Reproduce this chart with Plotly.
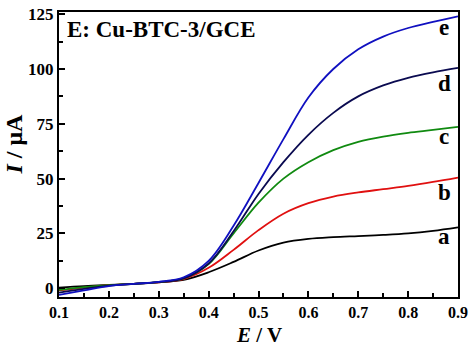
import plotly.graph_objects as go

# Potential axis (V)
potential = [0.10, 0.15, 0.20, 0.25, 0.30, 0.35, 0.40, 0.45, 0.50,
             0.55, 0.60, 0.65, 0.70, 0.75, 0.80, 0.85, 0.90]

# Current responses (uA) for the five concentrations
current_a = [0.3, 1.0, 1.5, 2.0, 2.7, 3.8, 7.3, 12.0, 17.2,
             20.8, 22.5, 23.3, 23.8, 24.3, 25.0, 26.2, 27.8]
current_b = [-1.0, 0.3, 1.4, 2.0, 2.7, 4.2, 9.3, 17.5, 26.5,
             34.0, 38.8, 41.8, 43.7, 45.2, 46.7, 48.5, 50.5]
current_c = [-0.8, 0.5, 1.4, 2.0, 2.8, 4.5, 11.0, 25.0, 39.0,
             50.0, 57.5, 63.0, 66.8, 69.2, 70.9, 72.2, 73.6]
current_d = [-2.0, -0.3, 1.2, 2.0, 2.8, 4.5, 11.3, 26.0, 43.0,
             57.5, 70.0, 80.0, 87.5, 92.5, 96.0, 98.5, 100.5]
current_e = [-3.0, -1.0, 1.0, 2.0, 2.9, 5.0, 12.5, 28.5, 48.0,
             68.0, 87.0, 100.0, 109.0, 114.8, 118.7, 121.5, 124.0]

curve_names = ["a", "b", "c", "d", "e"]
curve_colors = ["#000000", "#e01010", "#108a10", "#0a0a50", "#1010c0"]
curve_values = [current_a, current_b, current_c, current_d, current_e]

# Label positions next to each curve
label_x = 0.872
label_y = [23.6, 43.6, 69.0, 93.5, 119.0]

y_ticks = [0, 25, 50, 75, 100, 125]
x_ticks = [0.1, 0.2, 0.3, 0.4, 0.5, 0.6, 0.7, 0.8, 0.9]

FONT = "Liberation Serif"

fig = go.Figure()
for name, color, vals in zip(curve_names, curve_colors, curve_values):
    fig.add_trace(go.Scatter(
        x=potential, y=vals, mode="lines", name=name,
        line=dict(color=color, width=1.8, shape="spline", smoothing=1.0),
        showlegend=False,
    ))

for name, ly in zip(curve_names, label_y):
    fig.add_annotation(x=label_x, y=ly, text=f"<b>{name}</b>", showarrow=False,
                       font=dict(family=FONT, size=23, color="black"),
                       xanchor="center", yanchor="middle")

fig.add_annotation(x=0.015, y=0.99, xref="paper", yref="paper",
                   text="<b>E: Cu-BTC-3/GCE</b>", showarrow=False,
                   xanchor="left", yanchor="top",
                   font=dict(family=FONT, size=23, color="black"))

# Axis titles placed as annotations relative to the plot frame
fig.add_annotation(x=0.5, y=0, xref="paper", yref="paper", yshift=-51,
                   text="<b><i>E</i> / V</b>", showarrow=False, borderpad=0,
                   xanchor="center", yanchor="bottom",
                   font=dict(family=FONT, size=21, color="black"))
fig.add_annotation(x=0, y=0.5, xref="paper", yref="paper", xshift=-46, yshift=10,
                   text="<b><i>I</i> / μA</b>", showarrow=False, textangle=-90,
                   xanchor="center", yanchor="middle",
                   font=dict(family=FONT, size=24, color="black"))

axis_common = dict(
    showline=True, linecolor="black", linewidth=2, mirror=True,
    ticks="inside", ticklen=6, tickwidth=2, tickcolor="black",
    showgrid=False, zeroline=False, automargin=False,
)

fig.update_xaxes(
    range=[0.1, 0.9], tickvals=x_ticks,
    ticktext=[f"{v:.1f}" for v in x_ticks],
    minor=dict(ticks="inside", ticklen=4, tickwidth=2, tickcolor="black", dtick=0.05),
    tickfont=dict(family=FONT, size=16, color="black", weight="bold"),
    **axis_common,
)
fig.update_yaxes(
    range=[-4, 126], tickvals=y_ticks,
    minor=dict(ticks="inside", ticklen=4, tickwidth=2, tickcolor="black",
               tick0=0, dtick=12.5),
    tickfont=dict(family=FONT, size=17, color="black", weight="bold"),
    **axis_common,
)

fig.update_layout(
    width=474, height=349,
    margin=dict(l=59, r=16, t=12, b=52),
    paper_bgcolor="white", plot_bgcolor="white",
)

fig.write_html("out.html")
